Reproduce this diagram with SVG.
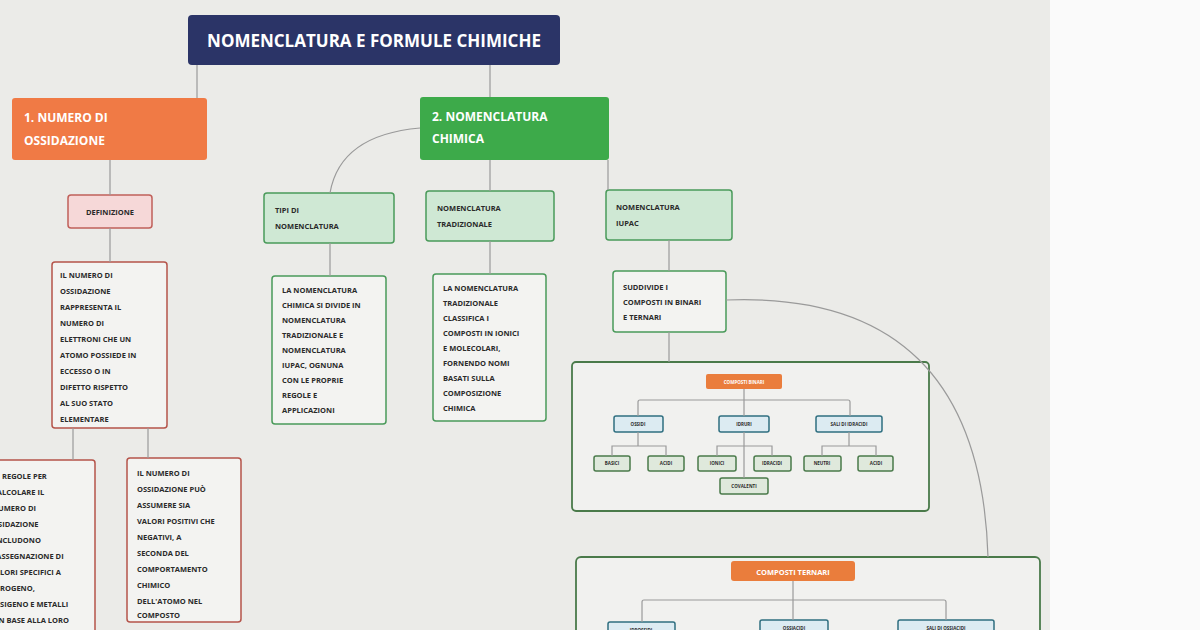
<svg xmlns="http://www.w3.org/2000/svg" width="1200" height="630" viewBox="0 0 1200 630">
<style>
text{font-family:"Open Sans","Liberation Sans",sans-serif;font-weight:700;fill:#2a2a2a}
.w{fill:#fff}
.s{font-size:7.5px}
.xs{font-size:4.5px}
.c{stroke:#9a9a9a;stroke-width:1.2;fill:none}
.lg{fill:#cfe8d4;stroke:#4a9a5a;stroke-width:1.5}
.tb{fill:#f3f3f1;stroke:#4a9a5a;stroke-width:1.5}
.rb{fill:#f3f3f1;stroke:#b5544a;stroke-width:1.5}
.bl{fill:#dcebf2;stroke:#2f6f80;stroke-width:1.5}
.gs{fill:#dfe9dc;stroke:#4a7a4a;stroke-width:1.5}
</style>
<rect width="1200" height="630" fill="#fafafa"/>
<rect width="1050" height="630" fill="#ebebe8"/>
<g id="title"><rect x="188" y="15" width="372" height="50" rx="4" fill="#2b3467"/><text class="w" x="374" y="47" text-anchor="middle" font-size="17" font-weight="600">NOMENCLATURA E FORMULE CHIMICHE</text></g>
<g id="n1"><rect x="12" y="98" width="195" height="62" rx="3" fill="#f07a45"/><text class="w" x="24" y="122" font-size="12">1. NUMERO DI</text><text class="w" x="24" y="145" font-size="12">OSSIDAZIONE</text></g>
<g id="n2"><rect x="420" y="97" width="189" height="63" rx="3" fill="#3daa4a"/><text class="w" x="432" y="121" font-size="12">2. NOMENCLATURA</text><text class="w" x="432" y="143" font-size="12">CHIMICA</text></g>
<g id="def"><rect x="68" y="195" width="84" height="33" rx="3" fill="#f6d8d8" stroke="#c0605a" stroke-width="1.5"/><text class="s" x="110" y="215" text-anchor="middle">DEFINIZIONE</text></g>
<g id="deftext"><rect class="rb" x="52" y="262" width="115" height="166" rx="3"/>
<text class="s"><tspan x="60" y="278">IL NUMERO DI</tspan><tspan x="60" y="294">OSSIDAZIONE</tspan><tspan x="60" y="310">RAPPRESENTA IL</tspan><tspan x="60" y="326">NUMERO DI</tspan><tspan x="60" y="342">ELETTRONI CHE UN</tspan><tspan x="60" y="358">ATOMO POSSIEDE IN</tspan><tspan x="60" y="374">ECCESSO O IN</tspan><tspan x="60" y="390">DIFETTO RISPETTO</tspan><tspan x="60" y="406">AL SUO STATO</tspan><tspan x="60" y="422">ELEMENTARE</tspan></text></g>
<g id="regole"><rect class="rb" x="-20" y="460" width="115" height="180" rx="3"/>
<text class="s"><tspan x="2" y="479">REGOLE PER</tspan><tspan x="-8" y="495">CALCOLARE IL</tspan><tspan x="-8" y="511">NUMERO DI</tspan><tspan x="-12" y="527">OSSIDAZIONE</tspan><tspan x="-6" y="543">INCLUDONO</tspan><tspan x="-10" y="559">L'ASSEGNAZIONE DI</tspan><tspan x="-10" y="575">VALORI SPECIFICI A</tspan><tspan x="-8" y="591">IDROGENO,</tspan><tspan x="-10" y="607">OSSIGENO E METALLI</tspan><tspan x="-4" y="623">IN BASE ALLA LORO</tspan><tspan x="-10" y="639">POSIZIONE NELLA</tspan></text></g>
<g id="valori"><rect class="rb" x="127" y="458" width="114" height="164" rx="3"/>
<text class="s"><tspan x="137" y="476">IL NUMERO DI</tspan><tspan x="137" y="492">OSSIDAZIONE PUÒ</tspan><tspan x="137" y="508">ASSUMERE SIA</tspan><tspan x="137" y="524">VALORI POSITIVI CHE</tspan><tspan x="137" y="540">NEGATIVI, A</tspan><tspan x="137" y="556">SECONDA DEL</tspan><tspan x="137" y="572">COMPORTAMENTO</tspan><tspan x="137" y="588">CHIMICO</tspan><tspan x="137" y="604">DELL'ATOMO NEL</tspan><tspan x="137" y="618">COMPOSTO</tspan></text></g>
<g id="tipi"><rect class="lg" x="264" y="193" width="130" height="50" rx="3"/><text class="s" x="275" y="213">TIPI DI</text><text class="s" x="275" y="229">NOMENCLATURA</text></g>
<g id="trad"><rect class="lg" x="426" y="191" width="128" height="50" rx="3"/><text class="s" x="437" y="211">NOMENCLATURA</text><text class="s" x="437" y="227">TRADIZIONALE</text></g>
<g id="iupac"><rect class="lg" x="606" y="190" width="126" height="50" rx="3"/><text class="s" x="616" y="210">NOMENCLATURA</text><text class="s" x="616" y="226">IUPAC</text></g>
<g id="tipitext"><rect class="tb" x="272" y="276" width="114" height="148" rx="3"/>
<text class="s"><tspan x="282" y="293">LA NOMENCLATURA</tspan><tspan x="282" y="308">CHIMICA SI DIVIDE IN</tspan><tspan x="282" y="323">NOMENCLATURA</tspan><tspan x="282" y="338">TRADIZIONALE E</tspan><tspan x="282" y="353">NOMENCLATURA</tspan><tspan x="282" y="368">IUPAC, OGNUNA</tspan><tspan x="282" y="383">CON LE PROPRIE</tspan><tspan x="282" y="398">REGOLE E</tspan><tspan x="282" y="413">APPLICAZIONI</tspan></text></g>
<g id="tradtext"><rect class="tb" x="433" y="274" width="113" height="147" rx="3"/>
<text class="s"><tspan x="443" y="291">LA NOMENCLATURA</tspan><tspan x="443" y="306">TRADIZIONALE</tspan><tspan x="443" y="321">CLASSIFICA I</tspan><tspan x="443" y="336">COMPOSTI IN IONICI</tspan><tspan x="443" y="351">E MOLECOLARI,</tspan><tspan x="443" y="366">FORNENDO NOMI</tspan><tspan x="443" y="381">BASATI SULLA</tspan><tspan x="443" y="396">COMPOSIZIONE</tspan><tspan x="443" y="411">CHIMICA</tspan></text></g>
<g id="iupactext"><rect class="tb" x="613" y="271" width="113" height="61" rx="3"/>
<text class="s"><tspan x="623" y="290">SUDDIVIDE I</tspan><tspan x="623" y="305">COMPOSTI IN BINARI</tspan><tspan x="623" y="320">E TERNARI</tspan></text></g>
<g id="binari"><rect fill="#f1f1ef" stroke="#4a7a4a" stroke-width="1.8" x="572" y="362" width="357" height="149" rx="4"/>
<rect x="706" y="374" width="76" height="15" rx="2" fill="#ea7d3c"/><text class="xs w" x="744" y="384" text-anchor="middle">COMPOSTI BINARI</text>
<rect class="bl" x="614" y="416" width="49" height="16" rx="2"/><text class="xs" x="638" y="426" text-anchor="middle">OSSIDI</text>
<rect class="bl" x="719" y="416" width="50" height="16" rx="2"/><text class="xs" x="744" y="426" text-anchor="middle">IDRURI</text>
<rect class="bl" x="816" y="416" width="66" height="16" rx="2"/><text class="xs" x="849" y="426" text-anchor="middle">SALI DI IDRACIDI</text>
<rect class="gs" x="594" y="456" width="36" height="15" rx="2"/><text class="xs" x="612" y="465" text-anchor="middle">BASICI</text>
<rect class="gs" x="648" y="456" width="36" height="15" rx="2"/><text class="xs" x="666" y="465" text-anchor="middle">ACIDI</text>
<rect class="gs" x="698" y="456" width="38" height="15" rx="2"/><text class="xs" x="717" y="465" text-anchor="middle">IONICI</text>
<rect class="gs" x="754" y="456" width="37" height="15" rx="2"/><text class="xs" x="772" y="465" text-anchor="middle">IDRACIDI</text>
<rect class="gs" x="720" y="478" width="48" height="16" rx="2"/><text class="xs" x="744" y="488" text-anchor="middle">COVALENTI</text>
<rect class="gs" x="804" y="456" width="37" height="15" rx="2"/><text class="xs" x="822" y="465" text-anchor="middle">NEUTRI</text>
<rect class="gs" x="858" y="456" width="35" height="15" rx="2"/><text class="xs" x="876" y="465" text-anchor="middle">ACIDI</text></g>
<g id="ternari"><rect fill="#f1f1ef" stroke="#4a7a4a" stroke-width="1.8" x="576" y="557" width="464" height="90" rx="5"/>
<rect x="731" y="561" width="124" height="20" rx="3" fill="#ea7d3c"/><text class="w" x="793" y="575" text-anchor="middle" font-size="7.5">COMPOSTI TERNARI</text>
<rect class="bl" x="608" y="622" width="67" height="20" rx="2"/><text class="xs" x="641" y="632" text-anchor="middle">IDROSSIDI</text>
<rect class="bl" x="760" y="620" width="68" height="20" rx="2"/><text class="xs" x="794" y="630" text-anchor="middle">OSSIACIDI</text>
<rect class="bl" x="898" y="620" width="96" height="20" rx="2"/><text class="xs" x="946" y="630" text-anchor="middle">SALI DI OSSIACIDI</text></g>
<g id="connectors">
<path class="c" d="M197 65V98M490 65V97M110 160V195M110 228V262M73 428V460M148 428V458M490 160V191M608 160V190M330 243V276M490 241V274M669 240V271M669 332V362"/>
<path class="c" d="M420 128Q340 135 330 193"/>
<path class="c" d="M726 300Q980 290 988 557"/>
<path class="c" d="M744 389V400M638 416V402Q638 400 640 400H848Q850 400 850 402V416M744 400V416M612 456V446H666V456M638 432V446M717 456V446H772V456M744 432V478M849 432V446M822 456V446H876V456"/>
<path class="c" d="M793 581V600M642 622V602Q642 600 644 600H944Q946 600 946 602V620M793 600V620"/>
</g>
</svg>
